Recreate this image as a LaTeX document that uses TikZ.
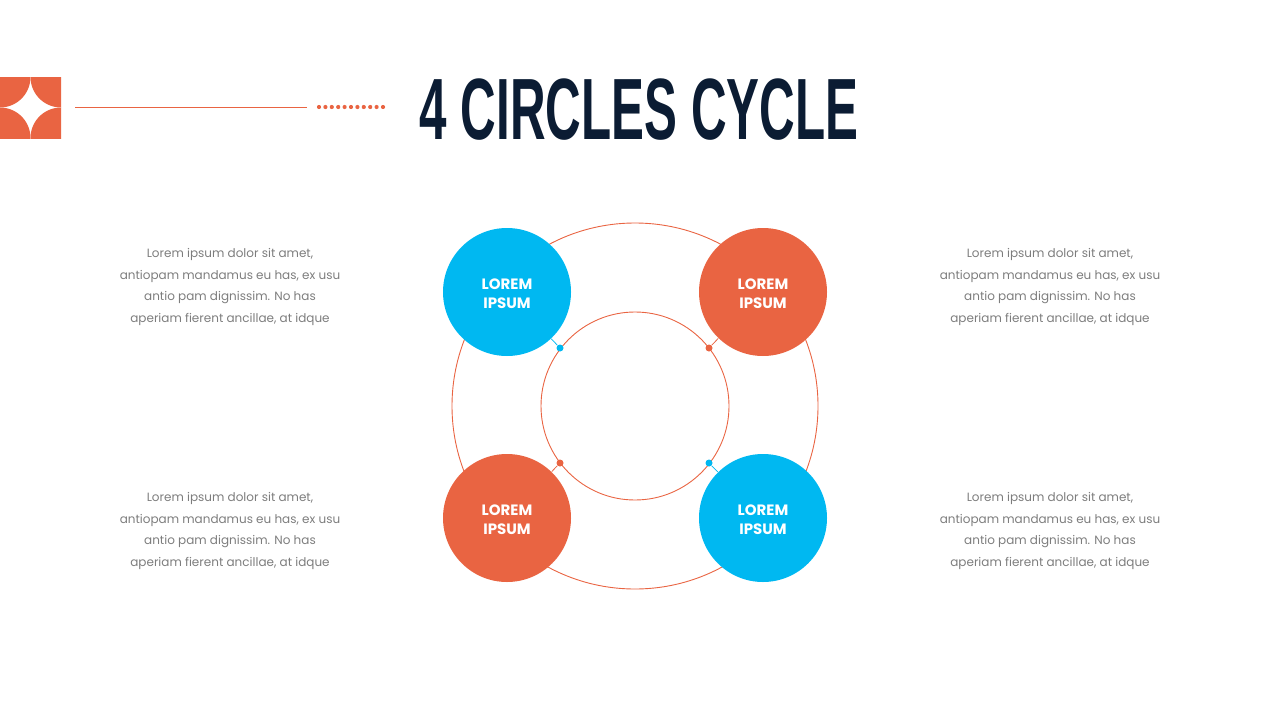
\documentclass[tikz,border=0pt]{standalone}
\usepackage{fontspec}
\setmainfont{Poppins}
\newfontfamily\titlefont{Liberation Sans}
\definecolor{orangeC}{RGB}{233,100,66}
\definecolor{blueC}{RGB}{0,184,241}
\definecolor{navyC}{RGB}{11,28,51}
\definecolor{greyC}{RGB}{125,125,125}
\tikzset{every picture/.style={line width=0.75pt}}
\tikzset{
  bigdisc/.style={circle,minimum size=128pt,inner sep=0pt},
  disclabel/.style={text=white,font=\fontsize{15}{19}\selectfont\bfseries,align=center,inner sep=0pt},
  lorem/.style={align=center,text=greyC,font=\fontsize{12}{21.7}\selectfont,inner sep=0pt},
  knot/.style={circle,minimum size=7pt,inner sep=0pt}
}
\begin{document}
\begin{tikzpicture}[x=1pt,y=1pt,yscale=-1,xscale=1]
\useasboundingbox (0,0) rectangle (1280,720);

%Shape: Square logo
\begin{scope}
\clip (0,77) rectangle (61,138);
\foreach \cx/\cy in {0/77,61/77,0/138,61/138} \fill [orangeC] (\cx,\cy) circle [radius=30.5];
\end{scope}
%Straight Lines
\draw [orangeC,line width=1pt] (75,107) -- (307,107);
%Dots
\foreach \i in {0,...,10} \fill [orangeC] (319+6.4*\i,107) circle [radius=2.1];

% Text Node
\node (title) at (639,110) [text=navyC,inner sep=0pt] {\scalebox{0.567}[1]{\titlefont\fontsize{87}{87}\selectfont\bfseries 4 CIRCLES CYCLE}};

%Shape: Ellipse
\draw [orangeC,line width=0.9pt] (635,406) circle [radius=183];
\draw [orangeC,line width=0.9pt] (635,406) circle [radius=94];

%Knots on inner circle
\node (k1) at (560,348) [knot,fill=blueC] {};
\node (k2) at (709,348) [knot,fill=orangeC] {};
\node (k3) at (560,463) [knot,fill=orangeC] {};
\node (k4) at (709,463) [knot,fill=blueC] {};

%Shape: Circles
\node (c1) at (507,292) [bigdisc,fill=blueC] {};
\node (c2) at (763,292) [bigdisc,fill=orangeC] {};
\node (c3) at (507,518) [bigdisc,fill=orangeC] {};
\node (c4) at (763,518) [bigdisc,fill=blueC] {};
\node (l1) at (507,294) [disclabel] {LOREM\\IPSUM};
\node (l2) at (763,294) [disclabel] {LOREM\\IPSUM};
\node (l3) at (507,520) [disclabel] {LOREM\\IPSUM};
\node (l4) at (763,520) [disclabel] {LOREM\\IPSUM};

%Straight Lines
\draw [blueC] (c1) -- (k1);
\draw [orangeC] (c2) -- (k2);
\draw [orangeC] (c3) -- (k3);
\draw [blueC] (c4) -- (k4);

% Text Node
\node (t1) at (230,287) [lorem] {Lorem ipsum dolor sit amet,\\antiopam mandamus eu has, ex usu\\antio pam dignissim. No has\\aperiam fierent ancillae, at idque};
\node (t2) at (1050,287) [lorem] {Lorem ipsum dolor sit amet,\\antiopam mandamus eu has, ex usu\\antio pam dignissim. No has\\aperiam fierent ancillae, at idque};
\node (t3) at (230,531) [lorem] {Lorem ipsum dolor sit amet,\\antiopam mandamus eu has, ex usu\\antio pam dignissim. No has\\aperiam fierent ancillae, at idque};
\node (t4) at (1050,531) [lorem] {Lorem ipsum dolor sit amet,\\antiopam mandamus eu has, ex usu\\antio pam dignissim. No has\\aperiam fierent ancillae, at idque};
\end{tikzpicture}
\end{document}
